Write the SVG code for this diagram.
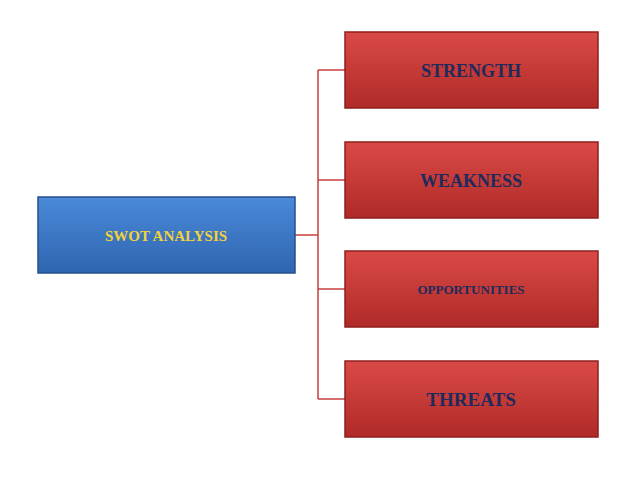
<svg xmlns="http://www.w3.org/2000/svg" width="638" height="478" viewBox="0 0 638 478">
<defs>
<linearGradient id="gr" x1="0" y1="0" x2="0" y2="1"><stop offset="0" stop-color="#d94a47"/><stop offset="1" stop-color="#b02a27"/></linearGradient>
<linearGradient id="gb" x1="0" y1="0" x2="0" y2="1"><stop offset="0" stop-color="#4a8ad8"/><stop offset="1" stop-color="#2f65b0"/></linearGradient>
<style>
.r{fill:url(#gr);stroke:#8f1f1c;stroke-width:1.5}
.b{fill:url(#gb);stroke:#24508f;stroke-width:1.5}
.t{font-family:"Liberation Serif",serif;font-weight:bold;fill:#1f2a5c;text-anchor:middle}
.c{fill:none;stroke:#c9403c;stroke-width:1.5}
</style>
</defs>
<rect width="638" height="478" fill="#fff"/>
<g id="connectors">
<path class="c" d="M295 235H318M318 70V399M318 70H345M318 180H345M318 289H345M318 399H345"/>
</g>
<g id="swot"><rect class="b" x="38" y="197" width="257" height="76"/><text x="166" y="241" font-size="15" style="font-family:'Liberation Serif',serif;font-weight:bold;fill:#f2d23a;text-anchor:middle">SWOT  ANALYSIS</text></g>
<g id="strength"><rect class="r" x="345" y="32" width="253" height="76"/><text class="t" x="471" y="77" font-size="18">STRENGTH</text></g>
<g id="weakness"><rect class="r" x="345" y="142" width="253" height="76"/><text class="t" x="471" y="187" font-size="18">WEAKNESS</text></g>
<g id="opportunities"><rect class="r" x="345" y="251" width="253" height="76"/><text class="t" x="471" y="294" font-size="13">OPPORTUNITIES</text></g>
<g id="threats"><rect class="r" x="345" y="361" width="253" height="76"/><text class="t" x="471" y="406" font-size="19">THREATS</text></g>
</svg>
